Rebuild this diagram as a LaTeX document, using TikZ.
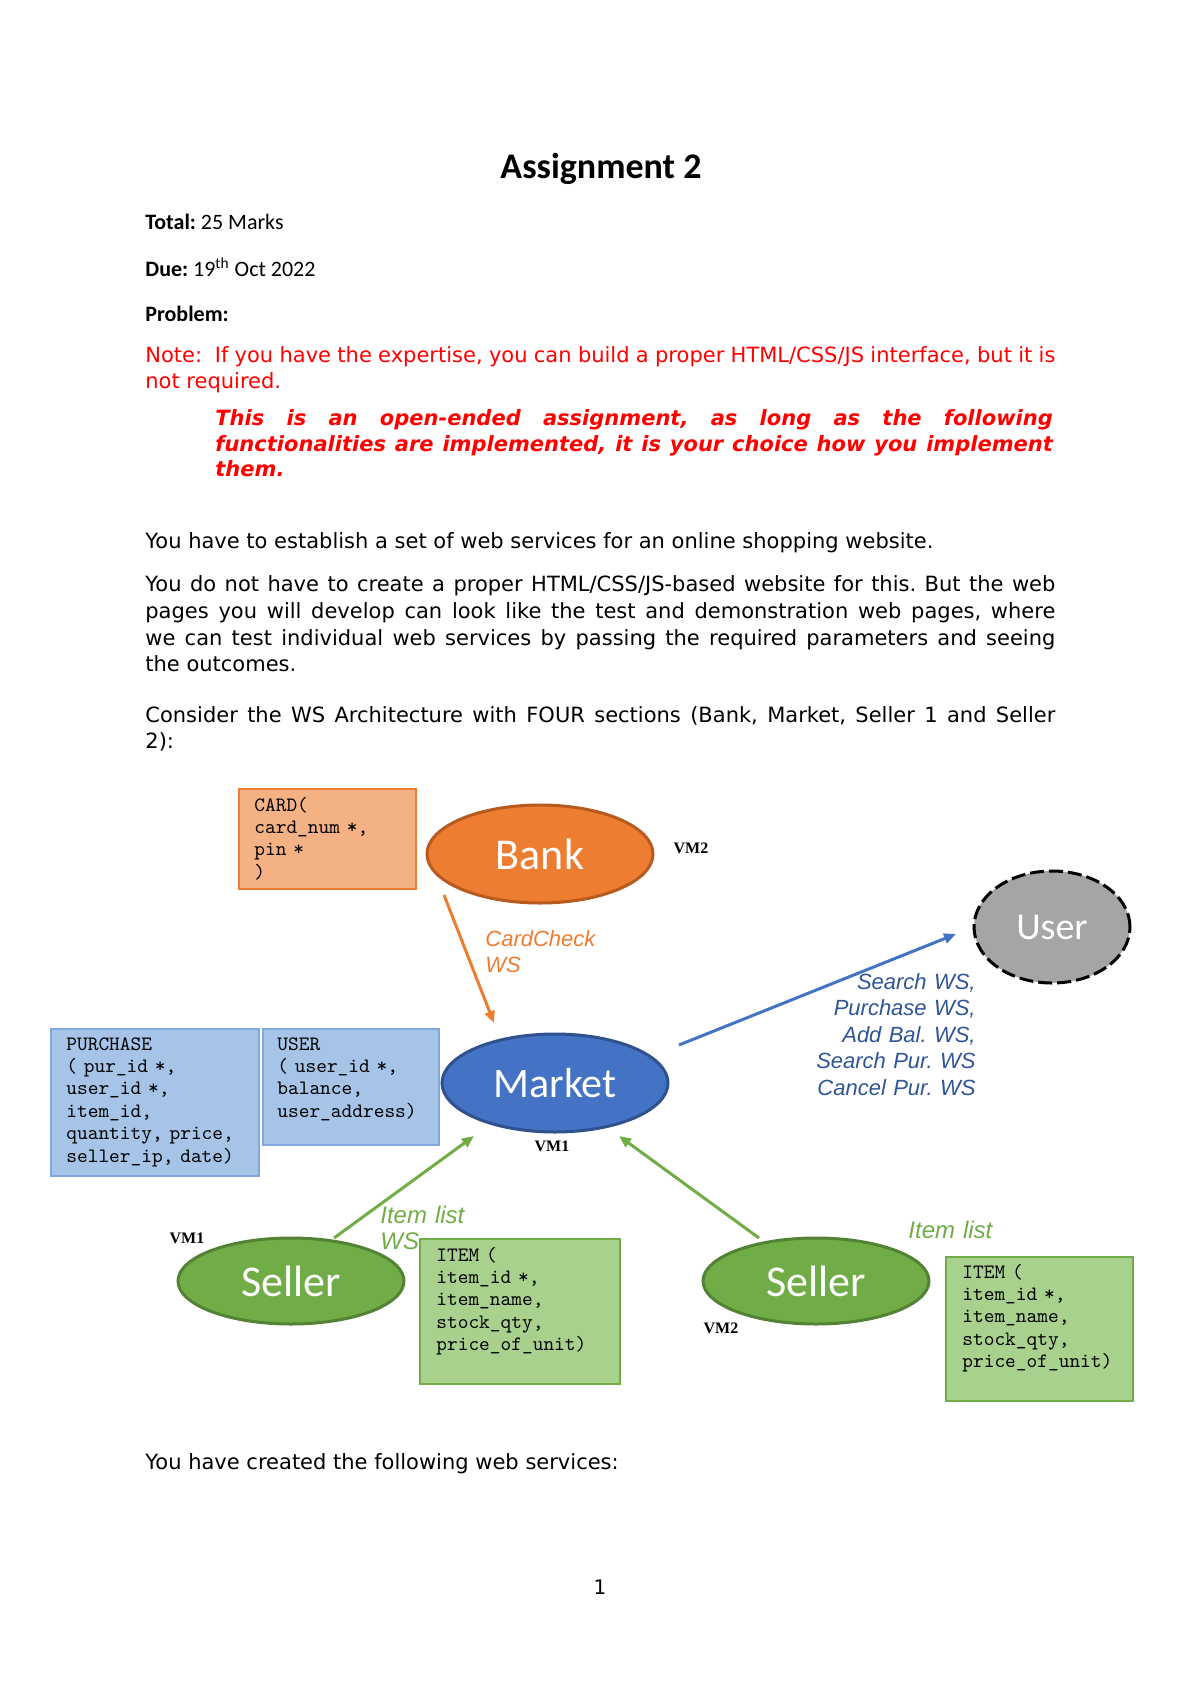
\documentclass[tikz,border=0pt]{standalone}
\usepackage{fontspec}
\setmainfont{DejaVu Sans}
\newfontfamily\calibrifont{Carlito}
\newfontfamily\arialfont{Liberation Sans}
\newfontfamily\timesfont{Liberation Serif}
\usetikzlibrary{shapes.geometric, arrows.meta}

\definecolor{bankorange}{HTML}{ED7D31}
\definecolor{bankedge}{HTML}{B85A1E}
\definecolor{cardfill}{HTML}{F4B183}
\definecolor{marketblue}{HTML}{4472C4}
\definecolor{marketedge}{HTML}{2F528F}
\definecolor{tablefill}{HTML}{A6C3E8}
\definecolor{tableedge}{HTML}{7FA7DB}
\definecolor{sellergreen}{HTML}{70AD47}
\definecolor{selleredge}{HTML}{548235}
\definecolor{itemfill}{HTML}{A9D18E}
\definecolor{usergrey}{HTML}{A5A5A5}
\definecolor{notered}{HTML}{FF0000}
\definecolor{labelblue}{HTML}{2F5597}

% stretch one line of a justified paragraph
\newcommand{\jline}[2]{\makebox[#1][s]{#2}}

\begin{document}
\frenchspacing
\begin{tikzpicture}[x=0.5pt, y=-0.5pt,
        bodyline/.style={anchor=base west, inner sep=0pt, font=\fontsize{10.5}{13}\selectfont},
        headline/.style={anchor=base west, inner sep=0pt, font=\calibrifont\fontsize{11}{13}\selectfont},
        service/.style={ellipse, draw, line width=1.5pt, text=white, inner sep=0pt, minimum width=113pt, minimum height=49pt, font=\calibrifont\fontsize{22}{26}\selectfont},
        tablebox/.style={rectangle, draw, line width=1pt, anchor=north west, inner sep=0pt},
        tabletext/.style={anchor=base west, inner sep=0pt, align=left, text width=100pt, font=\ttfamily\fontsize{10.2}{11.2}\selectfont},
        vmtag/.style={inner sep=0pt, font=\timesfont\bfseries\fontsize{8}{9}\selectfont},
        wslabel/.style={inner sep=0pt, text width=90pt, font=\arialfont\itshape\fontsize{11}{13.25}\selectfont},
        flow/.style={-{Triangle[length=6pt, width=5pt]}, line width=1.5pt},
    ]
    \fill[white] (0,0) rectangle (1200,1698);

    % Heading
    \node[anchor=base, inner sep=0pt, font=\calibrifont\bfseries\fontsize{18}{22}\selectfont] (title) at (601,178) {Assignment 2};
    \node[headline] (total) at (145,229) {\textbf{Total:} 25 Marks};
    \node[headline] (due) at (145,276) {\textbf{Due:} 19\textsuperscript{th} Oct 2022};
    \node[headline] (problem) at (145,321) {\textbf{Problem:}};

    % Note
    \node[bodyline, text=notered] (note1) at (145,362) {\jline{455pt}{Note:\ \ If you have the expertise, you can build a proper HTML/CSS/JS interface, but it is}};
    \node[bodyline, text=notered] (note2) at (145,388) {not required.};
    \node[bodyline, text=notered, font=\fontsize{10.5}{13}\selectfont\bfseries\itshape] (open1) at (215,425) {\jline{418.75pt}{This is an open-ended assignment, as long as the following}};
    \node[bodyline, text=notered, font=\fontsize{10.5}{13}\selectfont\bfseries\itshape] (open2) at (215,451) {\jline{418.75pt}{functionalities are implemented, it is your choice how you implement}};
    \node[bodyline, text=notered, font=\fontsize{10.5}{13}\selectfont\bfseries\itshape] (open3) at (215,476) {them.};

    % Body text
    \node[bodyline] (para1) at (145,548) {You have to establish a set of web services for an online shopping website.};
    \node[bodyline] (para2a) at (145,591) {\jline{455pt}{You do not have to create a proper HTML/CSS/JS-based website for this. But the web}};
    \node[bodyline] (para2b) at (145,618) {\jline{455pt}{pages you will develop can look like the test and demonstration web pages, where}};
    \node[bodyline] (para2c) at (145,645) {\jline{455pt}{we can test individual web services by passing the required parameters and seeing}};
    \node[bodyline] (para2d) at (145,671) {the outcomes.};
    \node[bodyline] (para3a) at (145,722) {\jline{455pt}{Consider the WS Architecture with FOUR sections (Bank, Market, Seller 1 and Seller}};
    \node[bodyline] (para3b) at (145,748) {2):};

    % Bank
    \node[tablebox, draw=bankorange, fill=cardfill, minimum width=88.5pt, minimum height=50pt] (card) at (238,788) {};
    \node[tabletext] (cardtext) at (254,811) {CARD(\\card\_num *,\\pin *\\)};
    \node[service, draw=bankedge, fill=bankorange] (bank) at (540,854) {Bank};
    \node[vmtag] (bankvm) at (691,848) {VM2};

    % Market
    \node[tablebox, draw=tableedge, fill=tablefill, minimum width=104pt, minimum height=73.5pt] (purchase) at (50,1028) {};
    \node[tabletext] (purchasetext) at (66,1050) {PURCHASE\\( pur\_id *,\\user\_id *,\\item\_id,\\quantity, price,\\seller\_ip, date)};
    \node[tablebox, draw=tableedge, fill=tablefill, minimum width=88pt, minimum height=58pt] (usertable) at (262,1028) {};
    \node[tabletext] (usertext) at (277,1050) {USER\\( user\_id *,\\balance,\\user\_address)};
    \node[service, draw=marketedge, fill=marketblue, font=\calibrifont\fontsize{21}{25}\selectfont] (market) at (555,1083) {Market};
    \node[vmtag] (marketvm) at (552,1146) {VM1};

    % User
    \node[service, draw=black, fill=usergrey, dash pattern=on 7pt off 2.5pt, minimum width=78pt, minimum height=56pt, font=\calibrifont\fontsize{19}{23}\selectfont] (user) at (1052,927) {User};

    % Sellers
    \node[service, draw=selleredge, fill=sellergreen, minimum height=43pt] (seller1) at (291,1281) {Seller};
    \node[vmtag] (seller1vm) at (187,1238) {VM1};
    \node[tablebox, draw=sellergreen, fill=itemfill, minimum width=100pt, minimum height=72.5pt] (item1) at (419,1238) {};
    \node[tabletext] (item1text) at (436,1261) {ITEM (\\item\_id *,\\item\_name,\\stock\_qty,\\price\_of\_unit)};
    \node[service, draw=selleredge, fill=sellergreen, minimum height=43pt] (seller2) at (816,1281) {Seller};
    \node[vmtag] (seller2vm) at (721,1328) {VM2};
    \node[tablebox, draw=sellergreen, fill=itemfill, minimum width=93.5pt, minimum height=72pt] (item2) at (945,1256) {};
    \node[tabletext] (item2text) at (962,1278) {ITEM (\\item\_id *,\\item\_name,\\stock\_qty,\\price\_of\_unit)};

    % Web service flows
    \draw[flow, bankorange] ([shift={(-96,41)}]bank.center) -- ([shift={(-61,-60)}]market.center);
    \node[wslabel, anchor=base west, align=left, text=bankorange] (cardcheck) at (485,946) {CardCheck\\WS};
    \draw[flow, marketblue] ([shift={(124,-38)}]market.center) -- ([shift={(-96,7)}]user.center);
    \node[wslabel, anchor=base east, align=right, text=labelblue] (wslist) at (976,989) {Search WS,\\Purchase WS,\\Add Bal. WS,\\Search Pur. WS\\Cancel Pur. WS};
    \draw[flow, sellergreen] ([shift={(43,-43)}]seller1.center) -- ([shift={(-81,53)}]market.center);
    \node[wslabel, anchor=base west, align=left, text=sellergreen, font=\arialfont\itshape\fontsize{12}{13}\selectfont] (itemlist1) at (380,1223) {Item list\\WS};
    \draw[flow, sellergreen] ([shift={(-57,-43)}]seller2.center) -- ([shift={(64,53)}]market.center);
    \node[wslabel, anchor=base west, align=left, text=sellergreen, font=\arialfont\itshape\fontsize{12}{13}\selectfont] (itemlist2) at (908,1238) {Item list};

    % Closing text
    \node[bodyline] (para4) at (145,1469) {You have created the following web services:};
    \node[anchor=base, inner sep=0pt, font=\fontsize{10}{12}\selectfont] (pagenum) at (600,1594) {1};
\end{tikzpicture}
\end{document}
